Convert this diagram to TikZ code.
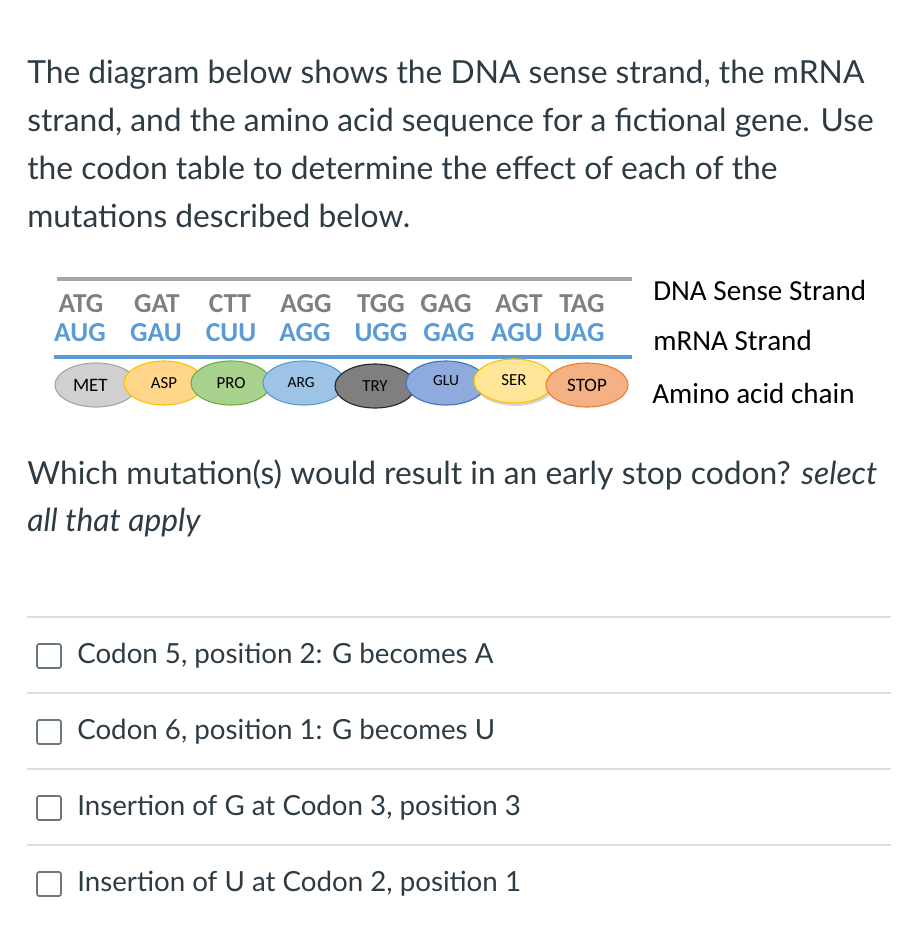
\documentclass[tikz,border=0pt]{standalone}
\usepackage{fontspec}
\usetikzlibrary{shapes.geometric, shadows}
\setmainfont{Lato}
\newfontfamily\calibri{Carlito}
\definecolor{canvastext}{HTML}{2D3B45}
\definecolor{dnagray}{HTML}{7F7F7F}
\definecolor{rnablue}{HTML}{5B9BD5}
\definecolor{strandgray}{HTML}{A5A5A5}
\definecolor{ruleline}{HTML}{DCDFE1}
\definecolor{boxgray}{HTML}{6B7780}
\definecolor{metfill}{HTML}{D0D0D0}
\definecolor{aspfill}{HTML}{FFD68A}
\definecolor{aspdraw}{HTML}{FFC000}
\definecolor{profill}{HTML}{A9D18E}
\definecolor{prodraw}{HTML}{70AD47}
\definecolor{argfill}{HTML}{9DC3E6}
\definecolor{tryfill}{HTML}{7F7F7F}
\definecolor{trydraw}{HTML}{262626}
\definecolor{glufill}{HTML}{8FAADC}
\definecolor{gludraw}{HTML}{4472C4}
\definecolor{serfill}{HTML}{FFE699}
\definecolor{stopfill}{HTML}{F4B183}
\definecolor{stopdraw}{HTML}{ED7D31}
\def\pxu{0.025cm}
\tikzset{
    para/.style={
        anchor=base west,
        inner sep=0pt,
        text=canvastext,
        font=\fontsize{22.6pt}{27pt}\selectfont
    },
    answer/.style={
        anchor=base west,
        inner sep=0pt,
        text=canvastext,
        font=\fontsize{19.7pt}{24pt}\selectfont
    },
    dnacodon/.style={
        anchor=base,
        inner sep=0pt,
        text=dnagray,
        font=\calibri\bfseries\fontsize{19.5pt}{23pt}\selectfont
    },
    rnacodon/.style={
        dnacodon,
        text=rnablue
    },
    strandlabel/.style={
        anchor=base west,
        inner sep=0pt,
        text=black,
        font=\calibri\fontsize{20.7pt}{24pt}\selectfont
    },
    amino/.style={
        ellipse,
        draw,
        line width=0.8pt,
        inner sep=0pt,
        minimum width=80*\pxu,
        minimum height=44*\pxu,
        font=\calibri\fontsize{12pt}{14pt}\selectfont
    },
    checkbox/.style={
        rectangle,
        rounded corners=1.5pt,
        draw=boxgray,
        line width=1.2pt,
        fill=white,
        inner sep=0pt,
        minimum size=24*\pxu
    },
    dnaline/.style={draw=strandgray, line width=2.2pt},
    rnaline/.style={draw=rnablue, line width=2.2pt},
    divider/.style={draw=ruleline, line width=1.3pt}
}

\begin{document}
\begin{tikzpicture}[x=0.025cm, y=-0.025cm]
\useasboundingbox (0,0) rectangle (912,946);

% Introduction
\node[para] (intro1) at (27,83) {The diagram below shows the DNA sense strand, the mRNA};
\node[para] (intro2) at (27,131) {strand, and the amino acid sequence for a fictional gene. Use};
\node[para] (intro3) at (27,179) {the codon table to determine the effect of each of the};
\node[para] (intro4) at (27,227) {mutations described below.};

% Strand lines
\coordinate (dnaL) at (57,279);
\coordinate (dnaR) at (632,279);
\coordinate (rnaL) at (54,357);
\coordinate (rnaR) at (632,357);
\draw[dnaline] (dnaL) -- (dnaR);
\draw[rnaline] (rnaL) -- (rnaR);

% DNA sense strand
\node[dnacodon] (dna1) at (81,312) {ATG};
\node[dnacodon] (dna2) at (157,312) {GAT};
\node[dnacodon] (dna3) at (230,312) {CTT};
\node[dnacodon] (dna4) at (306,312) {AGG};
\node[dnacodon] (dna5) at (381,312) {TGG};
\node[dnacodon] (dna6) at (446,312) {GAG};
\node[dnacodon] (dna7) at (519,312) {AGT};
\node[dnacodon] (dna8) at (582,312) {TAG};

% mRNA strand
\node[rnacodon] (rna1) at (80,341) {AUG};
\node[rnacodon] (rna2) at (156,341) {GAU};
\node[rnacodon] (rna3) at (231,341) {CUU};
\node[rnacodon] (rna4) at (305,341) {AGG};
\node[rnacodon] (rna5) at (381,341) {UGG};
\node[rnacodon] (rna6) at (449,341) {GAG};
\node[rnacodon] (rna7) at (517,341) {AGU};
\node[rnacodon] (rna8) at (579,341) {UAG};

% Amino acid chain
\node[amino, fill=metfill, draw=strandgray, minimum width=82*\pxu, font=\calibri\fontsize{13.5pt}{15pt}\selectfont] (met) at (96,385) {\hspace*{-8pt}MET};
\node[amino, fill=aspfill, draw=aspdraw] (asp) at (164,383) {ASP};
\node[amino, fill=profill, draw=prodraw] (pro) at (231,383) {PRO};
\node[amino, fill=argfill, draw=rnablue, minimum width=82*\pxu, font=\calibri\fontsize{11pt}{13pt}\selectfont] (arg) at (304,383) {\hspace*{-4pt}ARG};
\node[amino, fill=tryfill, draw=trydraw] (try) at (375,386) {TRY};
\node[amino, fill=glufill, draw=gludraw, font=\calibri\fontsize{11pt}{13pt}\selectfont] (glu) at (446,383) {\raisebox{3pt}{GLU}};
\node[amino, fill=serfill, draw=aspdraw, drop shadow={opacity=0.35, shadow xshift=1pt, shadow yshift=-2pt}] (ser) at (514,381) {\raisebox{2pt}{SER}};
\node[amino, fill=stopfill, draw=stopdraw, minimum width=82*\pxu, font=\calibri\fontsize{13.5pt}{15pt}\selectfont] (stop) at (587,385) {STOP};

% Strand labels
\node[strandlabel] (dnalabel) at (653,300) {DNA Sense Strand};
\node[strandlabel] (rnalabel) at (653,350) {mRNA Strand};
\node[strandlabel] (aminolabel) at (652,403) {Amino acid chain};

% Question
\node[para] (question1) at (27,484) {Which mutation(s) would result in an early stop codon? \textit{select}};
\node[para] (question2) at (27,531) {\textit{all that apply}};

% Answer dividers
\coordinate (rule1L) at (27,617);
\coordinate (rule1R) at (891,617);
\coordinate (rule2L) at (27,693);
\coordinate (rule2R) at (891,693);
\coordinate (rule3L) at (27,769);
\coordinate (rule3R) at (891,769);
\coordinate (rule4L) at (27,845);
\coordinate (rule4R) at (891,845);
\draw[divider] (rule1L) -- (rule1R);
\draw[divider] (rule2L) -- (rule2R);
\draw[divider] (rule3L) -- (rule3R);
\draw[divider] (rule4L) -- (rule4R);

% Answers
\node[checkbox] (box1) at (49,656) {};
\node[checkbox] (box2) at (49,732) {};
\node[checkbox] (box3) at (49,808) {};
\node[checkbox] (box4) at (49,884) {};
\node[answer] (answer1) at (77,663) {Codon 5, position 2: G becomes A};
\node[answer] (answer2) at (77,739) {Codon 6, position 1: G becomes U};
\node[answer] (answer3) at (77,815) {Insertion of G at Codon 3, position 3};
\node[answer] (answer4) at (77,891) {Insertion of U at Codon 2, position 1};

\end{tikzpicture}
\end{document}
